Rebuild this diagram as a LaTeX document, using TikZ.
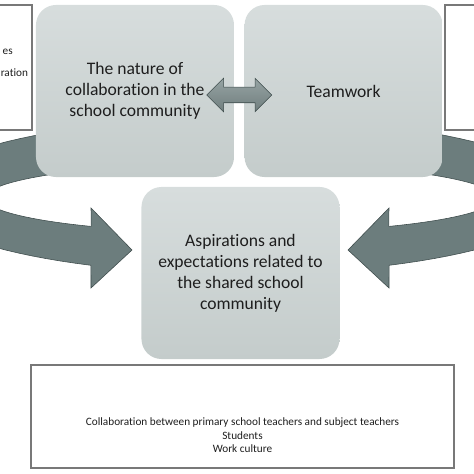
\documentclass[tikz,border=0pt]{standalone}
\usepackage{fontspec}
\setmainfont[Ligatures=NoCommon]{Carlito}
\usetikzlibrary{positioning,calc,shapes.arrows}
\definecolor{boxtop}{RGB}{215,221,221}
\definecolor{boxbot}{RGB}{196,204,203}
\definecolor{bandfill}{RGB}{108,125,125}
\definecolor{bandline}{RGB}{62,76,76}
\definecolor{linktop}{RGB}{150,163,163}
\definecolor{linkbot}{RGB}{112,126,126}
\definecolor{framegray}{RGB}{120,120,120}
\definecolor{inkgray}{RGB}{30,30,30}

\begin{document}
\begin{tikzpicture}[x=0.025cm,y=0.025cm,node distance=0.25cm,
  theme/.style={rounded corners=0.5cm,top color=boxtop,bottom color=boxbot,
    minimum width=4.95cm,minimum height=4.3cm,align=center,text=inkgray,
    font=\fontsize{12.5}{15}\selectfont,inner sep=0pt},
  notes/.style={draw=framegray,fill=white,line width=0.8pt,inner sep=0pt},
  band/.style={fill=bandfill,draw=bandline,line width=0.4pt},
  small/.style={font=\fontsize{8}{9.6}\selectfont,text=inkgray,inner sep=0pt}]
  \useasboundingbox (0,0) rectangle (474,474);

  % curved arrows behind the boxes
  \path[band] plot[samples=40,domain=120:242.7] ({240+325*cos(\x)},{278+78*sin(\x)})
     -- (91,186) -- (132,224) -- (91,266)
     -- plot[samples=40,domain=234.3:128.8] ({240+255*cos(\x)},{276+35*sin(\x)}) -- cycle;
  \path[band] plot[samples=40,domain=60:-62.7] ({240+325*cos(\x)},{278+78*sin(\x)})
     -- (389,186) -- (348,224) -- (389,266)
     -- plot[samples=40,domain=-54.3:51.2] ({240+255*cos(\x)},{276+35*sin(\x)}) -- cycle;

  \node[theme]          (nature) at (135,383)     {The nature of\\collaboration in the\\school community};
  \node[theme]          (team)   [right =of nature] {Teamwork};
  \node[theme]          (aims)   at (240.5,201)   {Aspirations and\\expectations related to\\the shared school\\community};

\tikzset{link/.style={shape=double arrow,draw=bandline,line width=0.4pt,
    top color=linktop,bottom color=linkbot,minimum height=1.625cm,minimum width=0pt,
    inner xsep=0pt,inner ysep=0.1875cm,double arrow head extend=0.225cm}}
  \node[link] (link) at ($(nature.east)!0.5!(team.west)+(0,-4)$) {};

  % side and bottom frames
  \node[notes,minimum width=1.05cm,minimum height=3.125cm]  (leftnotes)  at (11,406.5)  {};
  \node[notes,minimum width=1.125cm,minimum height=3.125cm] (rightnotes) at (467.5,406.5) {};
  \node[small,anchor=east] (lefta) at (13,422) {es};
  \node[small,anchor=west] (leftb) at (0.5,401) {ration};
  \node[notes,minimum width=10.575cm,minimum height=2.575cm] (context) at (242.5,57.5) {};
  \node[small,align=center] (ctxtext) at (242.5,38.5)
    {Collaboration between primary school teachers and subject teachers\\Students\\Work culture};
\end{tikzpicture}
\end{document}
